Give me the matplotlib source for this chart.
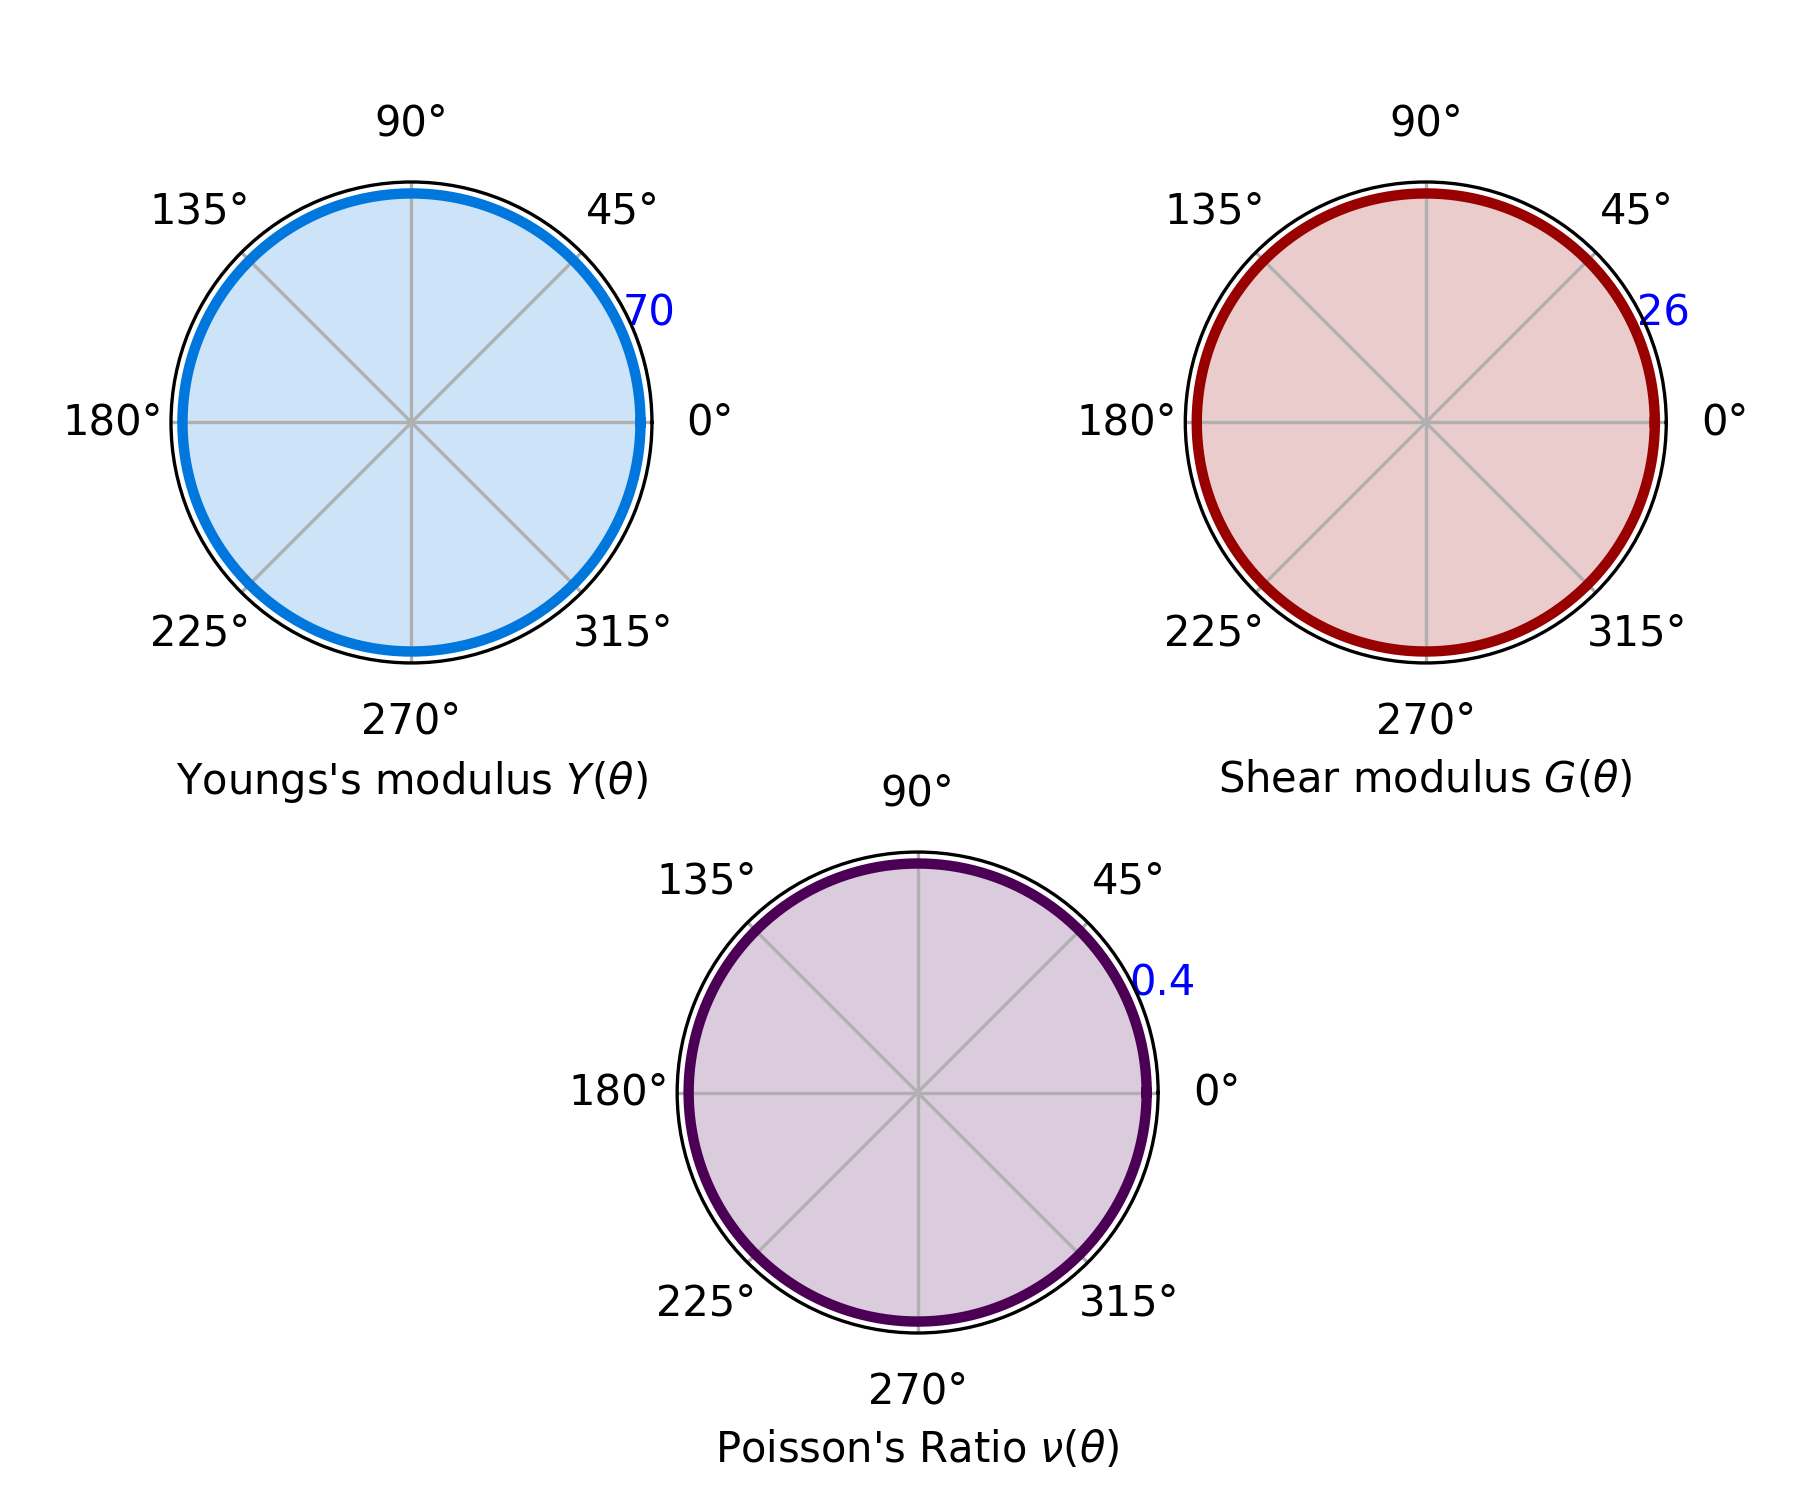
import numpy as np
import matplotlib
matplotlib.use("Agg")
import matplotlib.pyplot as plt

# isotropic elastic properties (constant over theta)
theta_deg = [0, 45, 90, 135, 180, 225, 270, 315, 360]
youngs = [70, 70, 70, 70, 70, 70, 70, 70, 70]
shear = [26, 26, 26, 26, 26, 26, 26, 26, 26]
poisson = [0.4, 0.4, 0.4, 0.4, 0.4, 0.4, 0.4, 0.4, 0.4]

titles = [r"Youngs's modulus $Y(\theta)$",
          r"Shear modulus $G(\theta)$",
          r"Poisson's Ratio $\nu(\theta)$"]
tick_labels = ["70", "26", "0.4"]
colors = ["#0077dd", "#990000", "#4b0055"]

plt.rcParams['font.size'] = 10

fig = plt.figure(figsize=(6, 5), dpi=300)
rects = [[0.095, 0.558, 0.2672, 0.3207],
         [0.6585, 0.558, 0.2672, 0.3207],
         [0.3762, 0.1113, 0.2672, 0.3207]]

def polar_panel(ax, values, color, label, ticklab):
    th = np.radians(np.interp(np.linspace(0, 360, 361), theta_deg, theta_deg))
    r = np.interp(np.degrees(th), theta_deg, values)
    ax.plot(th, r, color=color, lw=2.5)
    ax.fill(th, r, color=color, alpha=0.2, lw=0)
    ax.set_ylim(0, 1.05 * max(values))
    ax.set_yticks([max(values)])
    ax.set_yticklabels([ticklab], color="blue")
    ax.set_xlabel(label)

for rect, vals, col, lab, tl in zip(rects, [youngs, shear, poisson], colors, titles, tick_labels):
    ax = fig.add_axes(rect, projection='polar')
    polar_panel(ax, vals, col, lab, tl)

plt.savefig("out.png", dpi=300)
